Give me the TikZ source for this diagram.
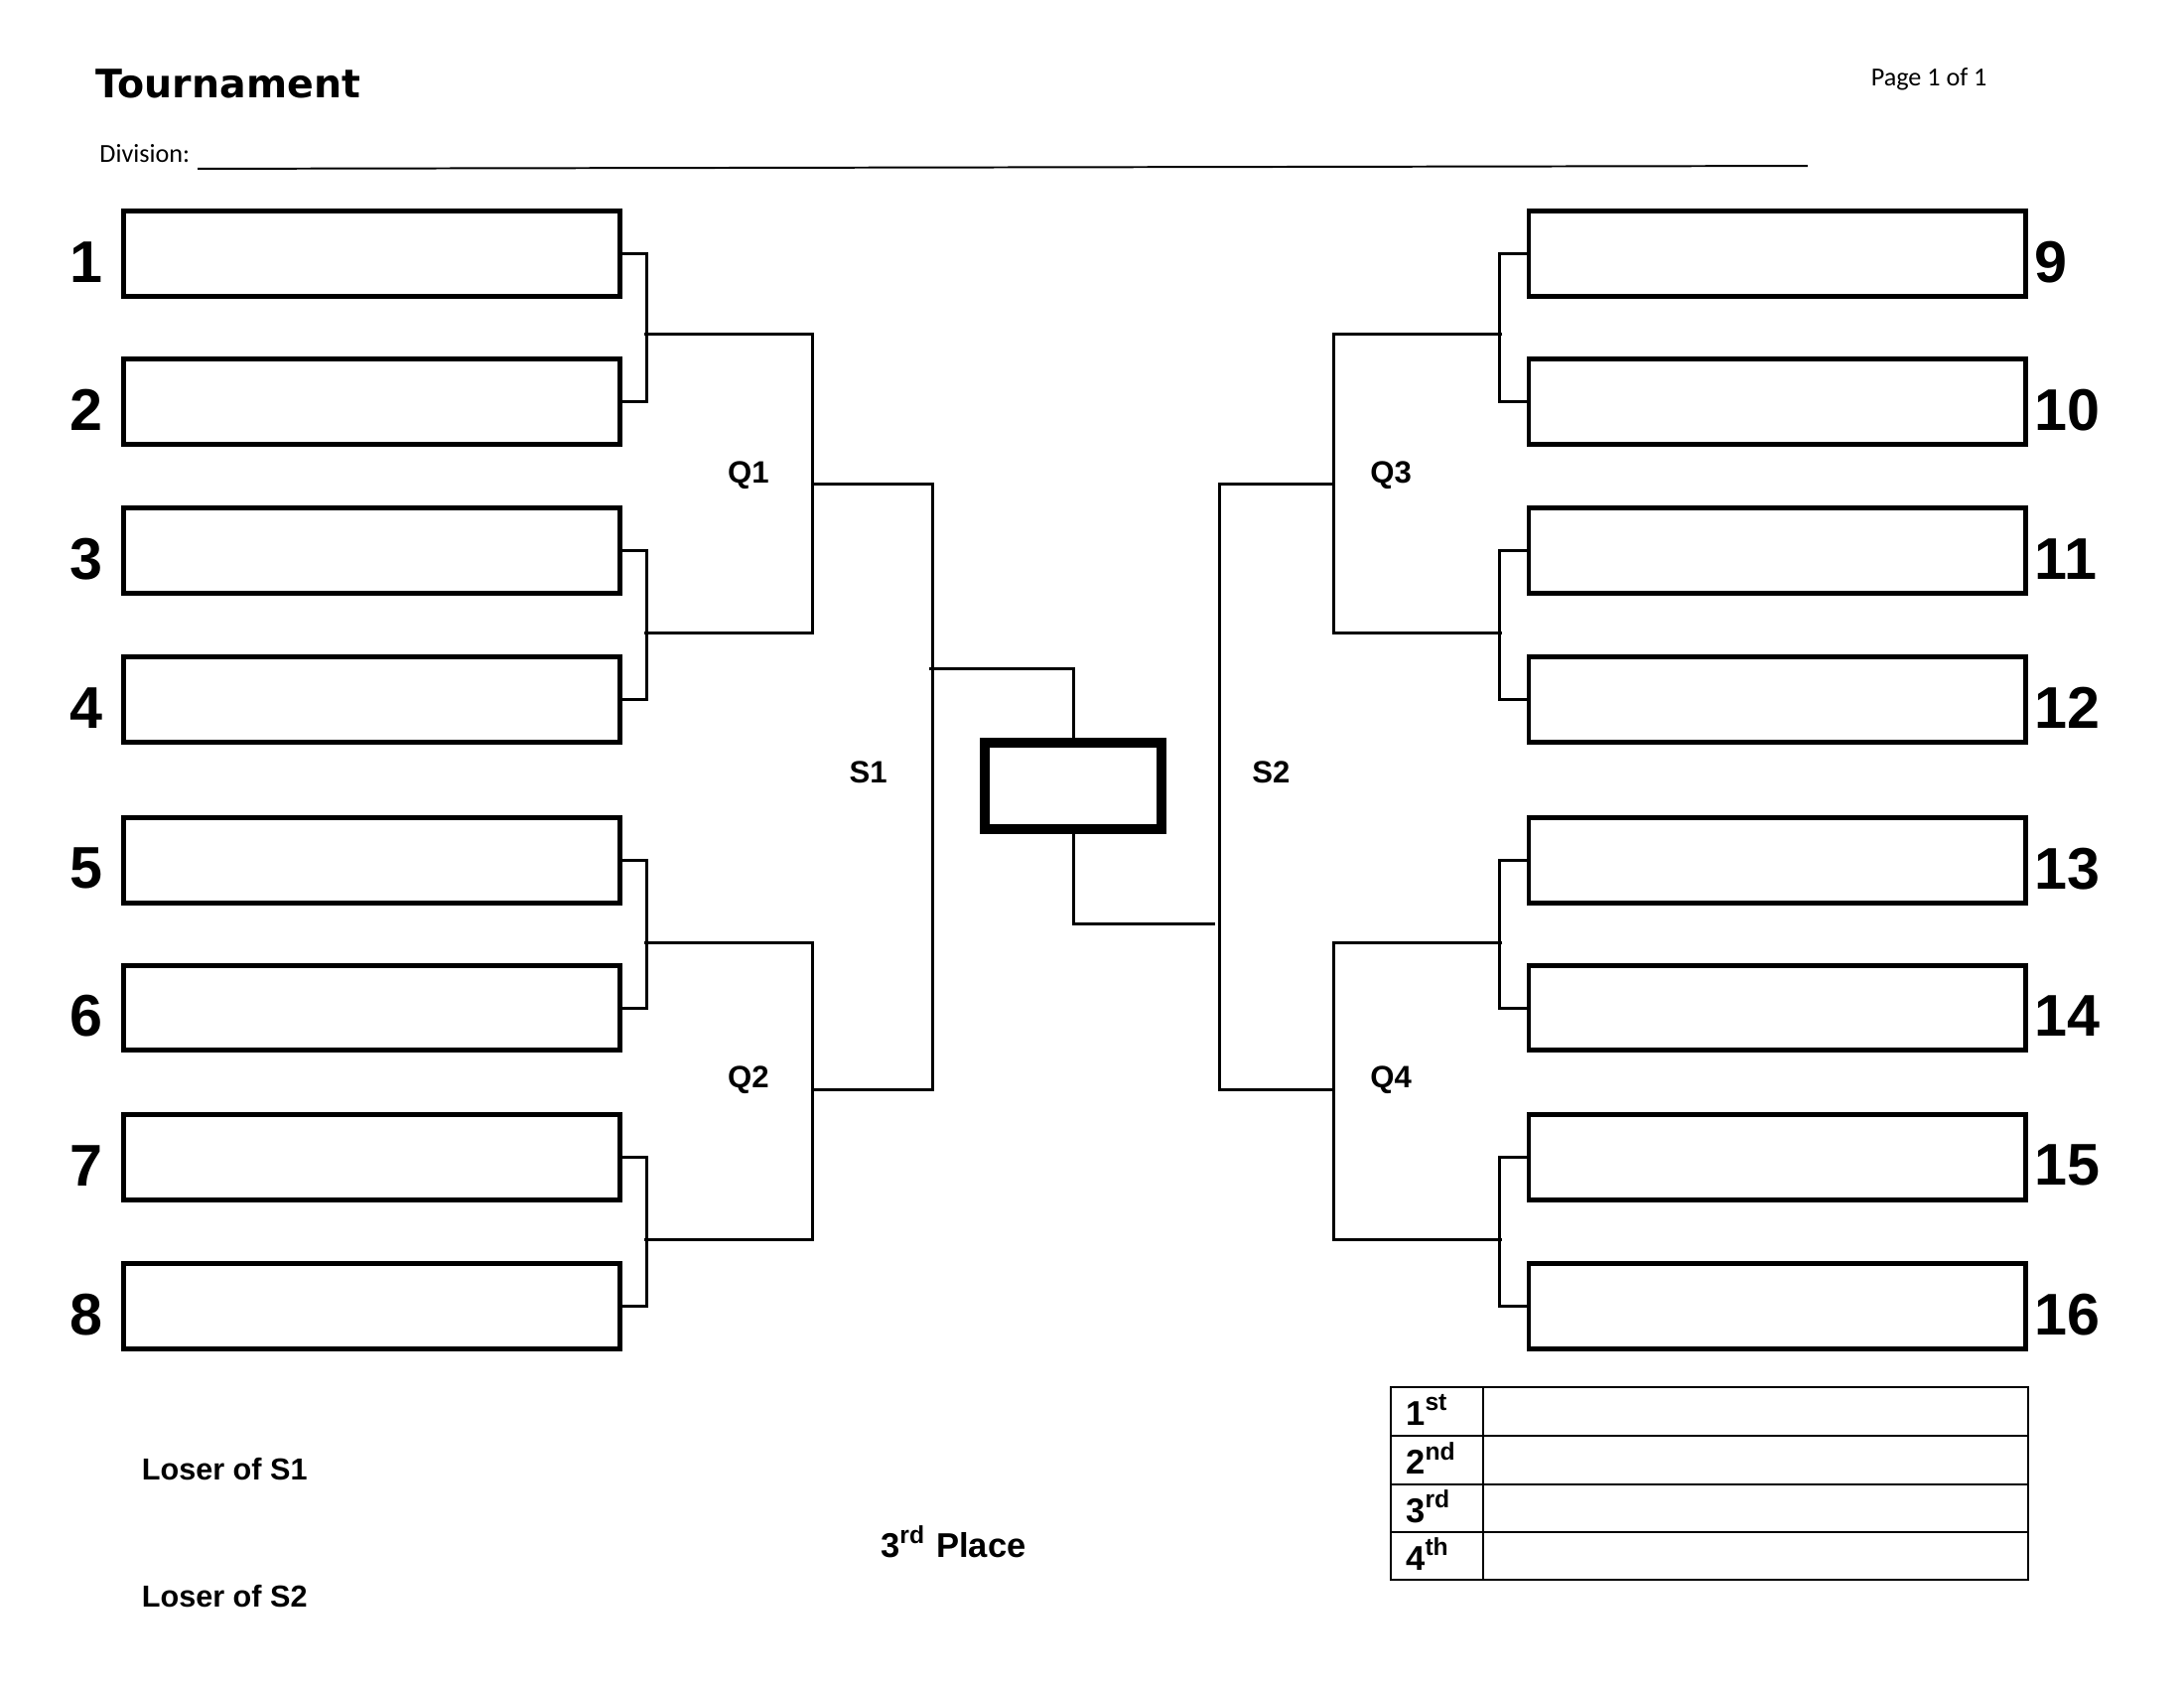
\documentclass[tikz,border=0pt]{standalone}
\usepackage{fontspec}
\setmainfont{Liberation Sans}
\newfontfamily\carlfont{Carlito}
\newfontfamily\dejafont{DejaVu Sans}
\usetikzlibrary{positioning,calc}

\begin{document}
\begin{tikzpicture}[x=0.01cm, y=-0.01cm, line width=0.6pt,
    slot/.style={draw, line width=1pt, minimum width=3.56cm, minimum height=0.61cm, inner sep=0pt},
    seed/.style={font=\fontsize{12}{12}\selectfont\bfseries},
    rnd/.style={font=\fontsize{6.3}{7}\selectfont\bfseries},
    place/.style={font=\fontsize{6.2}{7}\selectfont\bfseries, anchor=west}]
    \useasboundingbox (0,0) rectangle (1567,1210);

    % Header
    \node[anchor=west, font=\dejafont\fontsize{8}{9}\selectfont\bfseries, inner sep=0pt] (title) at (68,60) {Tournament};
    \node[font=\carlfont\fontsize{5.3}{6}\selectfont] (page) at (1384,57) {Page 1 of 1};
    \node[anchor=west, font=\carlfont\fontsize{5.3}{6}\selectfont, inner sep=1pt] (div) at (67,110) {Division:};
    \draw[line width=0.4pt] (div.south east) ++(1,0) -- (1297,119);

    % Left slots
    \foreach \y [count=\i] in {182,288,395,502,617,723,830,937} {
        \node[slot] (L\i) at (267,\y) {};
        \node[seed] (nL\i) at (62,\y+6) {\i};
    }
    % Right slots
    \foreach \y [count=\i] in {182,288,395,502,617,723,830,937} {
        \node[slot] (R\i) at (1275,\y) {};
        \pgfmathtruncatemacro{\s}{\i+8}
        \node[seed, anchor=west, inner sep=0pt] (nR\i) at (1459,\y+6) {\s};
    }

    % Junction points
    \coordinate (Q1a) at (583,240); \coordinate (Q1b) at (583,454); \coordinate (Q1o) at (669,347);
    \coordinate (Q2a) at (583,676); \coordinate (Q2b) at (583,889); \coordinate (Q2o) at (669,782);
    \coordinate (Q3a) at (957,240); \coordinate (Q3b) at (957,454); \coordinate (Q3o) at (875,347);
    \coordinate (Q4a) at (957,676); \coordinate (Q4b) at (957,889); \coordinate (Q4o) at (875,782);

    % Left bracket
    \draw (L1.east) -- ++(17,0) |- (L2.east);
    \draw (L3.east) -- ++(17,0) |- (L4.east);
    \draw (L5.east) -- ++(17,0) |- (L6.east);
    \draw (L7.east) -- ++(17,0) |- (L8.east);
    \draw (462,240) -- (Q1a) -- (Q1b) -- (462,454);
    \draw (462,676) -- (Q2a) -- (Q2b) -- (462,889);
    \draw (Q1a |- Q1o) -- (Q1o) -- (Q2o) -- (Q2a |- Q2o);

    % Right bracket
    \draw (R1.west) -- ++(-19,0) |- (R2.west);
    \draw (R3.west) -- ++(-19,0) |- (R4.west);
    \draw (R5.west) -- ++(-19,0) |- (R6.west);
    \draw (R7.west) -- ++(-19,0) |- (R8.west);
    \draw (1078,240) -- (Q3a) -- (Q3b) -- (1078,454);
    \draw (1078,676) -- (Q4a) -- (Q4b) -- (1078,889);
    \draw (Q3a |- Q3o) -- (Q3o) -- (Q4o) -- (Q4a |- Q4o);

    % Final
    \node[draw, line width=2pt, minimum width=1.27cm, minimum height=0.62cm] (F) at (770,564) {};
    \draw (667,480) -| (F.north);
    \draw (F.south) |- (872,663);

    % Round labels
    \node[rnd] (q1) at (537,341) {Q1};
    \node[rnd] (q2) at (537,775) {Q2};
    \node[rnd] (q3) at (998,341) {Q3};
    \node[rnd] (q4) at (998,775) {Q4};
    \node[rnd] (s1) at (623,554) {S1};
    \node[rnd] (s2) at (912,554) {S2};

    % Third place
    \node[place] (ls1) at (89,1054) {Loser of S1};
    \node[place] (ls2) at (89,1145) {Loser of S2};
    \node[font=\fontsize{7}{8}\selectfont\bfseries] (third) at (684,1106) {3\textsuperscript{rd} Place};

    % Standings
    \draw[line width=0.4pt] (998,995) rectangle (1455,1133);
    \foreach \y in {1030,1065,1099} \draw[line width=0.4pt] (998,\y) -- (1455,\y);
    \draw[line width=0.4pt] (1064,995) -- (1064,1133);
    \foreach \t [count=\i] in {st,nd,rd,th}
        \node[place, font=\fontsize{7}{8}\selectfont\bfseries] (p\i) at (996,977+34.5*\i) {\i\textsuperscript{\t}};
\end{tikzpicture}
\end{document}
